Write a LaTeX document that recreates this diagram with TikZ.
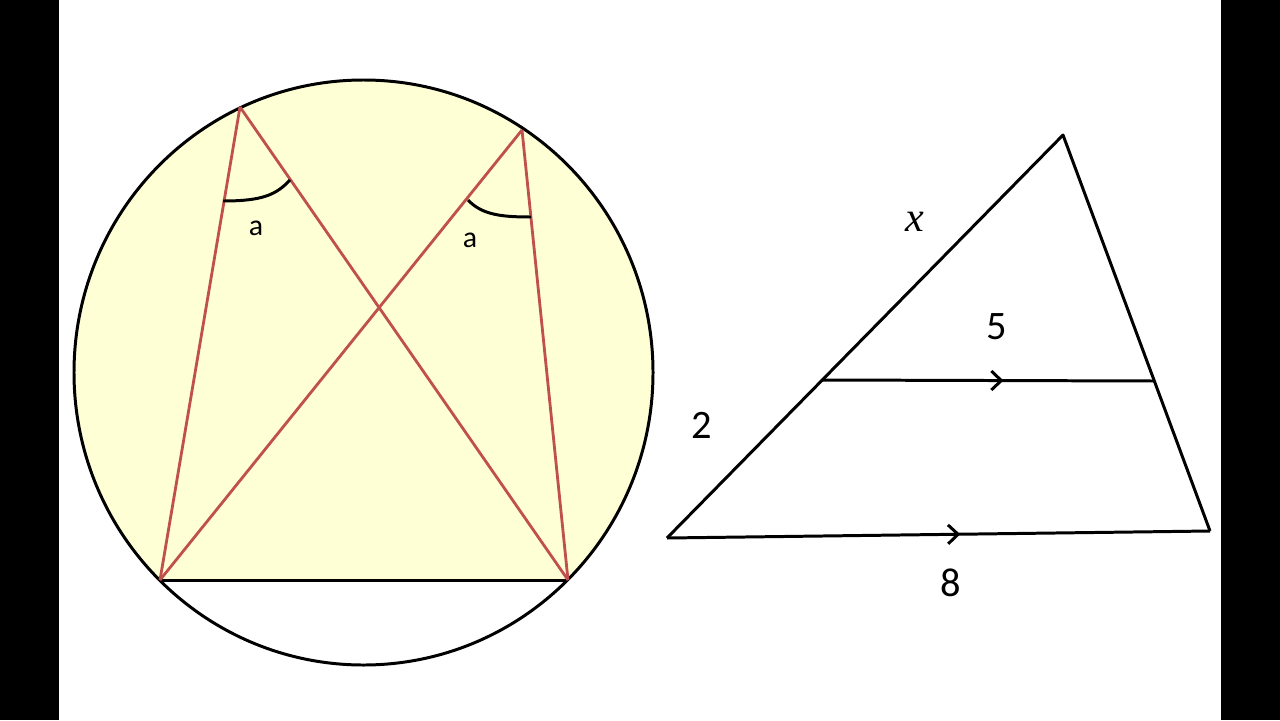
\documentclass[tikz,border=0pt]{standalone}
\usepackage{fontspec}
\setmainfont{Carlito}
\newfontfamily\varfont{Liberation Serif}
\usetikzlibrary{arrows.meta,decorations.markings}
\definecolor{chordred}{RGB}{192,80,77}
\definecolor{paleyellow}{RGB}{255,255,213}

\begin{document}
\begin{tikzpicture}[x=0.02cm, y=-0.02cm,
    redline/.style={chordred, line width=1.6pt},
    blackline/.style={black, line width=1.7pt},
    midarrow/.style={postaction={decorate}, decoration={markings,
        mark=at position #1 with {\arrow{Straight Barb[length=0.2cm,width=0.38cm]}}}},
    every node/.style={font=\fontsize{17}{20}\selectfont}]

    % === Frame ===
    \useasboundingbox (0,0) rectangle (1280,720);
    \fill[white] (0,0) rectangle (1280,720);
    \fill[black] (0,0) rectangle (59,720);
    \fill[black] (1221,0) rectangle (1280,720);

    % === Circle with inscribed quadrilateral ===
    \coordinate (o) at (363.5,372.5);
    \coordinate (a) at (160,580);
    \coordinate (b) at (568,580);
    \coordinate (p) at (240,107);
    \coordinate (q) at (522,130);

    \begin{scope}
        \clip (o) ellipse [x radius=289.5, y radius=292.5];
        \fill[paleyellow] (0,0) rectangle (1280,580);
    \end{scope}
    \draw[blackline] (o) ellipse [x radius=289.5, y radius=292.5];
    \draw[blackline] (a) -- (b);

    \draw[redline] (a) -- (p);
    \draw[redline] (p) -- (b);
    \draw[redline] (a) -- (q);
    \draw[redline] (q) -- (b);

    % angle marks
    \draw[blackline] (223,201) .. controls (262,201) and (276,195) .. (290,180);
    \draw[blackline] (468,200) .. controls (482,215) and (502,217) .. (531,217);
    \node (la) at (256,228) {a};
    \node (ra) at (470,240) {a};

    % === Triangle with parallel line ===
    \coordinate (t1) at (667,538);
    \coordinate (t2) at (1063,135);
    \coordinate (t3) at (1210,531);
    \coordinate (m1) at (822,380);
    \coordinate (m2) at (1155,381);

    \draw[blackline, line join=round] (t1) -- (t2) -- (t3);
    \draw[blackline, midarrow=0.54] (t1) -- (t3);
    \draw[blackline, midarrow=0.545] (m1) -- (m2);

    \node[font=\fontsize{24}{26}\selectfont\varfont\itshape] (lx) at (915,222) {x};
    \node[font=\fontsize{23}{26}\selectfont] (l5) at (997,327) {5};
    \node[font=\fontsize{23}{26}\selectfont] (l2) at (702,425) {2};
    \node[font=\fontsize{23}{26}\selectfont] (l8) at (951,583) {8};
\end{tikzpicture}
\end{document}
